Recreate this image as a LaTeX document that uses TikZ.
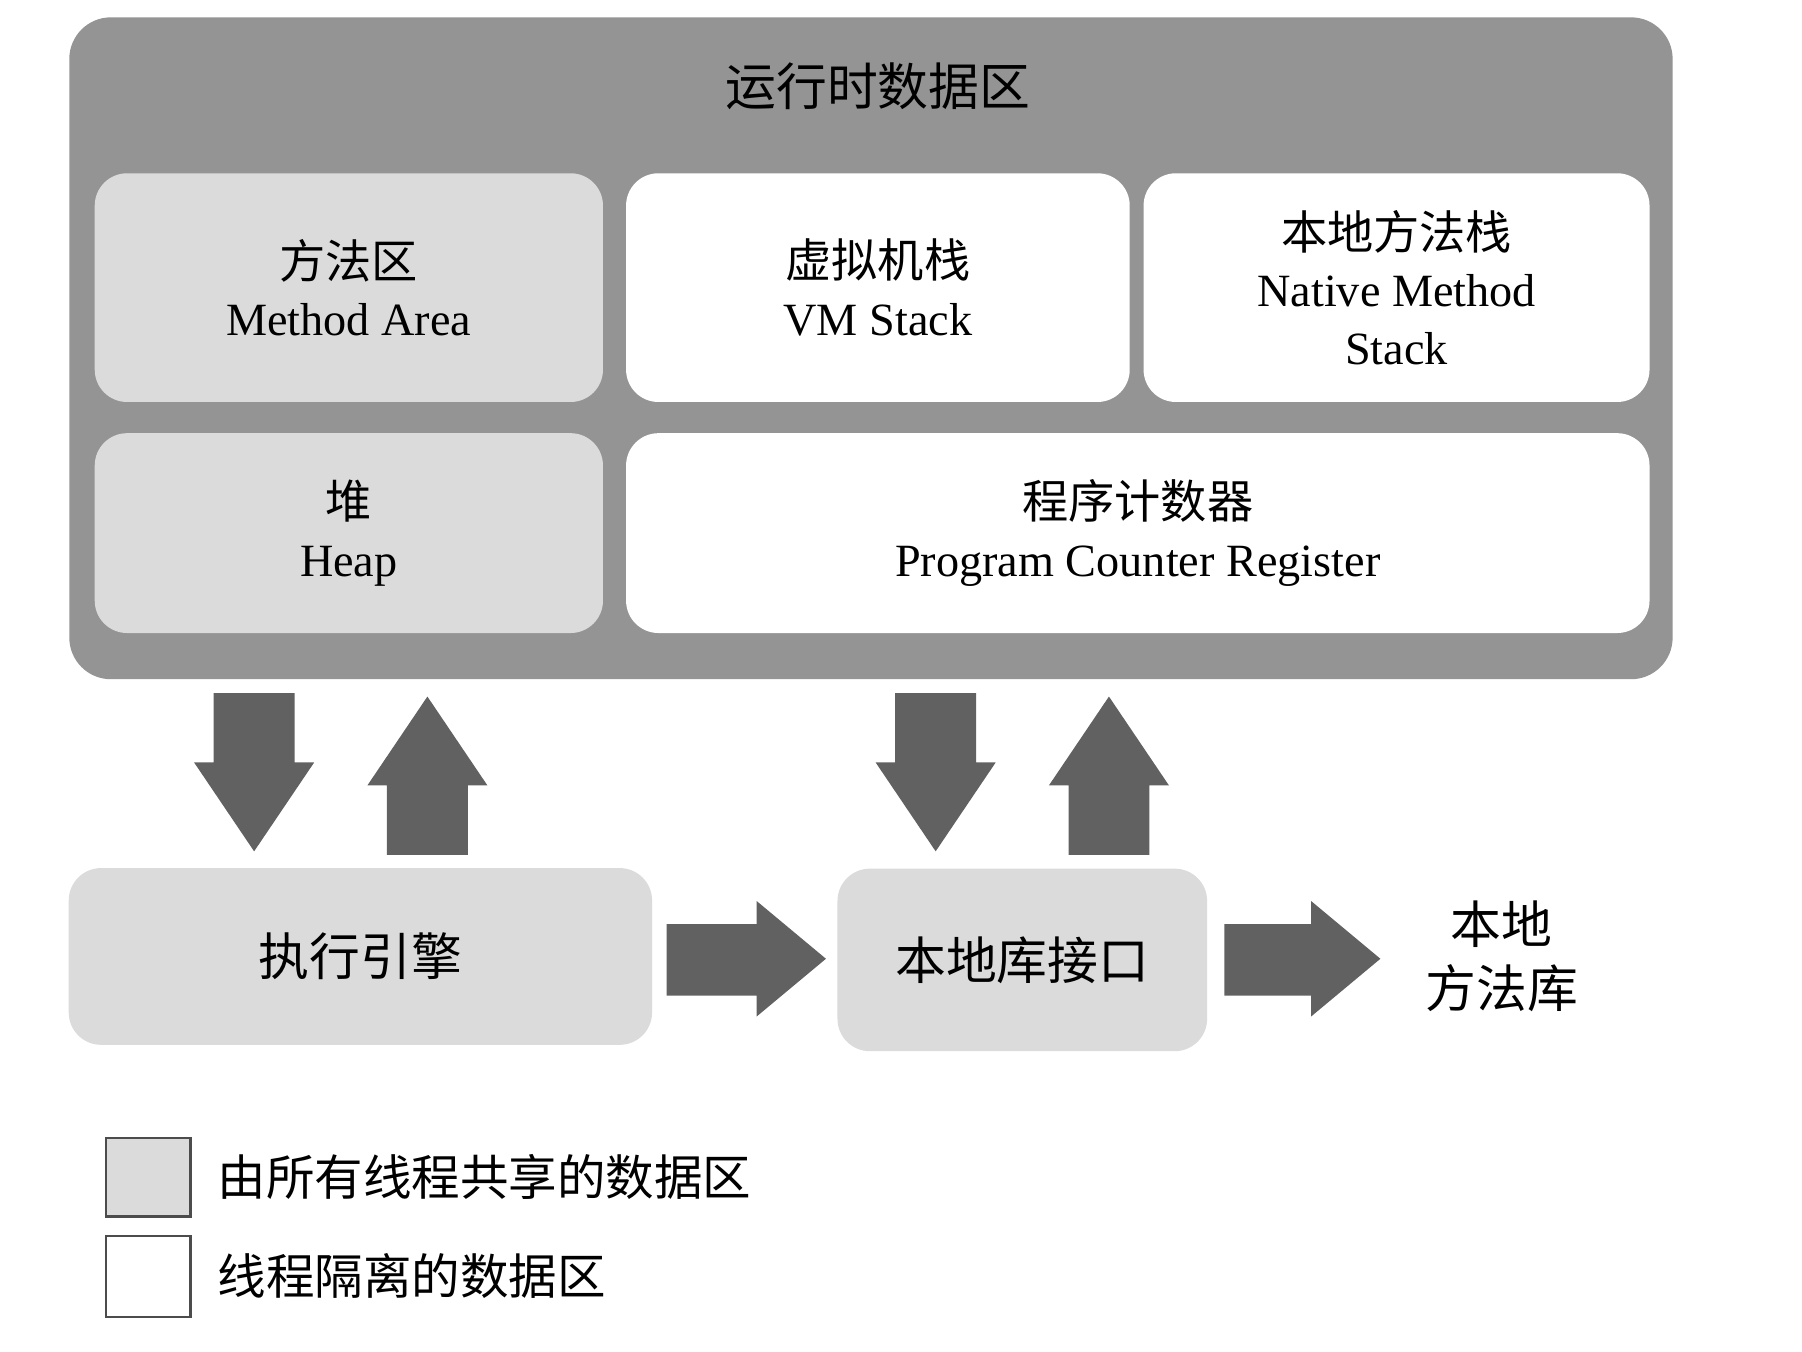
\documentclass[tikz,border=0pt]{standalone}
\usepackage{fontspec}
\setmainfont{Liberation Serif}
\newfontfamily\cjk{Noto Sans CJK SC}
\definecolor{outerg}{gray}{0.58}
\definecolor{shareg}{gray}{0.86}
\definecolor{arrg}{gray}{0.38}
\begin{document}
\begin{tikzpicture}[x=1pt,y=-1pt,
  box/.style={draw=none,rounded corners=28pt,align=center,font=\fontsize{40}{50}\selectfont},
  shared/.style={box,fill=shareg},
  priv/.style={box,fill=white},
  fatarrow/.style={fill=arrg,draw=none}]
\useasboundingbox (0,0) rectangle (1560,1170);
\fill[white] (0,0) rectangle (1560,1170);
\node[fill=outerg,rounded corners=36pt,minimum width=1388pt,minimum height=573pt,inner sep=0pt] (rt) at (754,301.5) {};
\node[font=\cjk\fontsize{44}{50}\selectfont] (title) at (760,75) {运行时数据区};
\node[shared,minimum width=440pt,minimum height=198pt] (ma) at (302,249) {{\cjk 方法区}\\Method Area};
\node[priv,minimum width=436pt,minimum height=198pt] (vm) at (760,249) {{\cjk 虚拟机栈}\\VM Stack};
\node[priv,minimum width=438pt,minimum height=198pt] (nm) at (1209,249) {{\cjk 本地方法栈}\\Native Method\\Stack};
\node[shared,minimum width=440pt,minimum height=173pt] (hp) at (302,461.5) {{\cjk 堆}\\Heap};
\node[priv,minimum width=886pt,minimum height=173pt] (pc) at (985,461.5) {{\cjk 程序计数器}\\Program Counter Register};
\node[shared,minimum width=505pt,minimum height=153pt,font=\cjk\fontsize{44}{50}\selectfont] (ee) at (312,828) {执行引擎};
\node[shared,minimum width=320pt,minimum height=158pt,font=\cjk\fontsize{44}{50}\selectfont] (ni) at (885,831) {本地库接口};
\node[align=center,font=\cjk\fontsize{44}{56}\selectfont] (lib) at (1300,828) {本地\\方法库};
% vertical arrows
\foreach \cx/\d in {220/1,370/-1,810/1,960/-1}{
  \ifnum\d=1
   \fill[fatarrow] (\cx-35,600) -- (\cx+35,600) -- (\cx+35,660) -- (\cx+52,660) -- (\cx,737) -- (\cx-52,660) -- (\cx-35,660) -- cycle;
  \else
   \fill[fatarrow] (\cx-35,740) -- (\cx+35,740) -- (\cx+35,680) -- (\cx+52,680) -- (\cx,603) -- (\cx-52,680) -- (\cx-35,680) -- cycle;
  \fi}
% horizontal arrows
\foreach \xa/\xb in {577/715,1060/1195}{
  \fill[fatarrow] (\xa,800) -- (\xb-60,800) -- (\xb-60,780) -- (\xb,830) -- (\xb-60,880) -- (\xb-60,862) -- (\xa,862) -- cycle;}
% legend
\node[draw=black!70,line width=2pt,fill=shareg,minimum width=73pt,minimum height=68pt,inner sep=0pt] (lg1) at (128.5,1019) {};
\node[draw=black!70,line width=2pt,fill=white,minimum width=73pt,minimum height=70pt,inner sep=0pt] (lg2) at (128.5,1105) {};
\node[anchor=west,font=\cjk\fontsize{42}{50}\selectfont] (lt1) at (185,1019) {由所有线程共享的数据区};
\node[anchor=west,font=\cjk\fontsize{42}{50}\selectfont] (lt2) at (185,1105) {线程隔离的数据区};
\end{tikzpicture}
\end{document}
